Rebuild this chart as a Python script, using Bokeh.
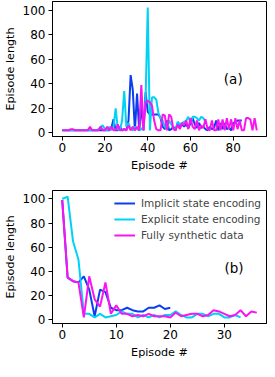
from bokeh.plotting import figure
from bokeh.layouts import column
from bokeh.models import Range1d, FixedTicker, Label, Legend, LegendItem
from bokeh.embed import file_html
from bokeh.resources import INLINE

# ---- data: panel (a) ----
implicit_a = [2, 2, 2, 2, 2, 2, 2, 2, 2, 2, 2, 2, 2, 2, 2, 2, 2, 2, 2, 2,
              2, 2, 2, 4, 11, 2, 2, 5, 2, 3, 2, 10, 47, 35, 2, 32, 2, 22, 2, 33,
              17, 15, 15, 15, 15, 15, 12, 5, 3, 10, 2, 3, 5, 2, 8, 4, 7, 5, 7, 4,
              8, 12, 7, 4, 8, 4, 5, 3, 2, 5, 3, 4, 10, 2, 8, 3, 8, 3, 4, 2,
              8, 9, 10, 10, 10]
explicit_a = [2, 2, 2, 2, 2, 2, 2, 2, 2, 2, 2, 2, 2, 2, 2, 2, 2, 3, 5, 6,
              3, 2, 5, 2, 5, 20, 3, 2, 10, 34, 5, 8, 3, 2, 5, 3, 2, 3, 5, 28,
              102, 2, 29, 29, 27, 16, 12, 10, 5, 3, 10, 7, 4, 2, 9, 7, 8, 9, 10, 13,
              8, 13, 13, 12, 10, 13, 12, 9]
synthetic_a = [2, 2, 2, 2, 3, 3, 2, 2, 2, 2, 2, 2, 2, 5, 2, 2, 2, 2, 5, 2,
               2, 5, 2, 5, 2, 2, 7, 2, 2, 3, 2, 6, 2, 5, 2, 5, 2, 39, 2, 25,
               26, 25, 22, 10, 3, 2, 2, 15, 14, 2, 15, 13, 3, 2, 7, 3, 8, 6, 10, 3,
               12, 5, 3, 10, 2, 6, 4, 11, 3, 2, 10, 2, 2, 11, 2, 11, 2, 12, 3, 11,
               2, 12, 3, 10, 2, 2, 12, 12, 11, 2, 12, 2]

# ---- data: panel (b) ----
implicit_b = [99, 35, 32, 31, 36, 25, 3, 25, 23, 10, 8, 8, 10, 8, 7, 7, 10, 10, 12, 9, 10]
explicit_b = [100, 102, 65, 50, 5, 5, 2, 5, 2, 3, 4, 7, 5, 5, 2, 4, 2, 4, 2, 4,
              4, 7, 4, 2, 2, 5, 5, 3, 5, 5, 2, 2, 4, 2]
synthetic_b = [99, 35, 32, 31, 2, 36, 17, 11, 31, 5, 12, 5, 5, 3, 4, 3, 5, 3, 3, 3,
               2, 6, 3, 4, 5, 5, 3, 4, 8, 7, 5, 3, 4, 8, 3, 7, 6]

series_names = ["Implicit state encoding", "Explicit state encoding", "Fully synthetic data"]
colors = ["#0a3ff0", "#00d2f5", "#fa14f0"]
yticks = [0, 20, 40, 60, 80, 100]
xticks_a = [0, 20, 40, 60, 80]
xticks_b = [0, 10, 20, 30]

FONT = "DejaVu Sans"


def make_fig(series, xticks, height, top_border, bottom_border, tag, tag_xy):
    n_max = max(len(s) for s in series) - 1
    pad = 0.05 * n_max
    p = figure(width=267, height=height, output_backend="svg", toolbar_location=None,
               x_range=Range1d(-pad, n_max + pad), y_range=Range1d(-3, 107),
               min_border_left=40, min_border_right=1,
               min_border_top=top_border, min_border_bottom=bottom_border)
    p.grid.visible = False
    p.outline_line_color = "black"
    p.outline_line_width = 1
    p.outline_line_alpha = 1
    renderers = []
    for s, c in zip(series, colors):
        r = p.line(list(range(len(s))), s, line_color=c, line_width=2)
        renderers.append(r)
    for ax in (p.xaxis[0], p.yaxis[0]):
        ax.axis_line_color = "black"
        ax.major_tick_line_color = "black"
        ax.major_tick_out = 4
        ax.major_tick_in = 0
        ax.minor_tick_line_color = None
        ax.major_label_text_font = FONT
        ax.major_label_text_font_size = "12px"
        ax.major_label_text_color = "black"
        ax.axis_label_text_font = FONT
        ax.axis_label_text_font_size = "11.2px"
        ax.axis_label_text_font_style = "normal"
        ax.axis_label_text_color = "black"
    p.xaxis.ticker = FixedTicker(ticks=xticks)
    p.yaxis.ticker = FixedTicker(ticks=yticks)
    p.xaxis.axis_label = "Episode #"
    p.yaxis.axis_label = "Episode length"
    p.xaxis.major_label_standoff = 2
    p.xaxis.axis_label_standoff = 4
    p.yaxis.major_label_standoff = 3
    p.yaxis.axis_label_standoff = 3
    p.add_layout(Label(x=tag_xy[0], y=tag_xy[1], text=tag, text_font=FONT,
                       text_font_size="13.5px", text_align="center",
                       text_baseline="middle", text_color="black"))
    return p, renderers


p1, _ = make_fig([implicit_a, explicit_a, synthetic_a], xticks_a, 184, 1, 48, "(a)", (80, 43.6))
p2, rs = make_fig([implicit_b, explicit_b, synthetic_b], xticks_b, 177, 6, 36, "(b)", (31.8, 43))

legend = Legend(items=[LegendItem(label=n, renderers=[r]) for n, r in zip(series_names, rs)],
                location="top_right", border_line_alpha=0, background_fill_alpha=0,
                label_text_font=FONT, label_text_font_size="10.5px",
                glyph_width=21, glyph_height=16, label_height=16, label_standoff=6,
                spacing=0, padding=5, margin=0)
p2.add_layout(legend)

layout = column(p1, p2)
open("out.html", "w").write(file_html(layout, INLINE))
